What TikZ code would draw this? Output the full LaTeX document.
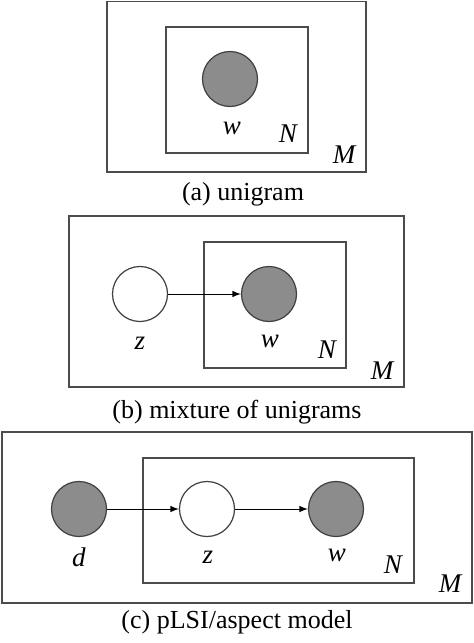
\documentclass[tikz,border=0pt]{standalone}
\usepackage{fontspec}
\setmainfont{Liberation Serif}
\usetikzlibrary{arrows,positioning}
\tikzset{
>=latex,
observed/.style={circle, draw=black!75, fill=black!45, line width=0.6pt, minimum size=27.5pt, inner sep=0pt},
latent/.style={circle, draw=black!75, fill=white, line width=0.6pt, minimum size=27.5pt, inner sep=0pt},
plate/.style={draw=black!70, line width=0.7pt},
var/.style={font=\fontsize{13.5}{13.5}\selectfont\itshape, inner sep=0pt},
caption/.style={font=\fontsize{13}{13}\selectfont, inner sep=0pt},
line/.style={draw, line width=0.5pt, ->},
}
\begin{document}
\begin{tikzpicture}[x=0.5pt,y=-0.5pt]
\useasboundingbox (0,0) rectangle (474,643);

% (a) unigram
\draw[plate] (107,1.5) rectangle (366,172);
\draw[plate] (166,27) rectangle (308,153);
\node[observed] (wa) at (230,79) {};
\node[var] (wa-lbl) at (232,128) {w};
\node[var] (Na) at (288,134) {N};
\node[var] (Ma) at (344,155) {M};
\node[caption] (capa) at (243,194) {(a) unigram};

% (b) mixture of unigrams
\draw[plate] (69,216) rectangle (404,387);
\draw[plate] (204,242) rectangle (346,368);
\node[latent] (zb) at (140,294) {};
\node[observed] (wb) at (269,294) {};
\node[var] (zb-lbl) at (140,343) {z};
\node[var] (wb-lbl) at (270,341) {w};
\node[var] (Nb) at (327,350) {N};
\node[var] (Mb) at (382,371) {M};
\node[caption] (capb) at (237,412) {(b) mixture of unigrams};
\path[line] (zb) -- (wb);

% (c) pLSI/aspect model
\draw[plate] (2,432) rectangle (472,603);
\draw[plate] (143,458) rectangle (414,583);
\node[observed] (dc) at (79,509) {};
\node[latent] (zc) at (207,509) {};
\node[observed] (wc) at (336,509) {};
\node[var] (dc-lbl) at (79,557) {d};
\node[var] (zc-lbl) at (208,557) {z};
\node[var] (wc-lbl) at (337,555) {w};
\node[var] (Nc) at (393,565) {N};
\node[var] (Mc) at (450,584) {M};
\node[caption] (capc) at (237,622) {(c) pLSI/aspect model};
\path[line] (dc) -- (zc);
\path[line] (zc) -- (wc);

\end{tikzpicture}
\end{document}
